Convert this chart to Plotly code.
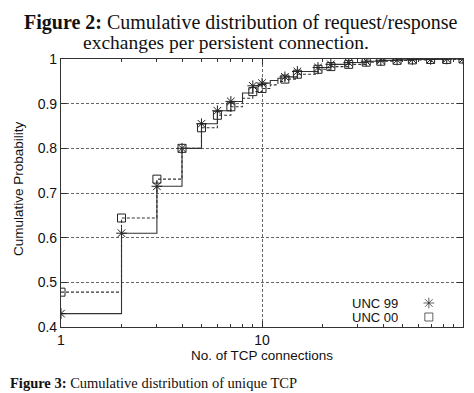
import plotly.graph_objects as go

# Data
x_vals = [1, 2, 3, 4, 5, 6, 7, 8, 9, 10, 11, 12, 13, 15, 19, 22, 27, 33, 39, 47, 56, 69, 83, 100]
unc99 = [0.43, 0.61, 0.715, 0.80, 0.855, 0.884, 0.905, 0.924, 0.94, 0.946, 0.952, 0.957, 0.960,
         0.972, 0.981, 0.988, 0.992, 0.995, 0.997, 0.998, 0.999, 0.999, 1.0, 1.0]
unc00 = [0.478, 0.644, 0.731, 0.80, 0.846, 0.874, 0.893, 0.912, 0.927, 0.934, 0.942, 0.950, 0.955,
         0.966, 0.977, 0.983, 0.988, 0.993, 0.995, 0.997, 0.998, 0.999, 0.999, 1.0]
marked = [1, 2, 3, 4, 5, 6, 7, 9, 10, 13, 15, 19, 22, 27, 33, 39, 47, 56, 69, 83, 100]
series_names = ["UNC 99", "UNC 00"]
y_ticks = [0.4, 0.5, 0.6, 0.7, 0.8, 0.9, 1.0]
y_tick_text = ["0.4", "0.5", "0.6", "0.7", "0.8", "0.9", "1"]

line_col = "#333333"
mark_col = "#222222"
fig = go.Figure()

def add_series(yv, name, dash, symbol, msize):
    fig.add_trace(go.Scatter(x=x_vals, y=yv, mode="lines", line_shape="hv",
                             line=dict(color=line_col, width=1.1, dash=dash),
                             showlegend=False, name=name))
    mx = [x for x in x_vals if x in marked]
    my = [y for x, y in zip(x_vals, yv) if x in marked]
    fig.add_trace(go.Scatter(x=mx, y=my, mode="markers", name=name,
                             marker=dict(symbol=symbol, size=msize, color=mark_col,
                                         line=dict(color=mark_col, width=1)),
                             showlegend=False))

add_series(unc99, series_names[0], "solid", "asterisk-open", 9)
add_series(unc00, series_names[1], "3px,2px", "square-open", 8)

# key (text then symbol, as in gnuplot)
key_y = [(327 - 303) / 268, (327 - 317) / 268]
for name, ky in zip(series_names, key_y):
    fig.add_annotation(x=0.841, y=ky, xref="paper", yref="paper", text=name, showarrow=False,
                       xanchor="right", yanchor="middle", height=14, borderpad=0,
                       font=dict(family="Liberation Sans, Arial", size=13, color="#111"))

fig.add_trace(go.Scatter(x=[0.915, 0.915], y=key_y, xaxis="x2", yaxis="y2", mode="markers",
                         marker=dict(symbol=["asterisk-open", "square-open"], size=[9, 8],
                                     color=mark_col, line=dict(color=mark_col, width=1)),
                         showlegend=False, hoverinfo="skip"))

axis_font = dict(family="Liberation Sans, Arial", size=14, color="#111")
# page body has an 8px default margin: figure is sized so it ends at the window edge
fig.update_layout(
    width=466, height=385,
    margin=dict(l=53, r=11, t=51, b=66),
    paper_bgcolor="white", plot_bgcolor="white",
    showlegend=False,
    xaxis=dict(type="log", range=[0, 2], tickvals=[1, 10, 100], ticktext=["1", "10", "100"],
               ticks="inside", ticklen=6, tickcolor=line_col, showline=True, linecolor=line_col,
               linewidth=1.2, mirror="ticks", showgrid=True, gridcolor="#666", griddash="3px,2px",
               gridwidth=1, tickfont=axis_font, zeroline=False,
               automargin=False,
               minor=dict(ticks="inside", ticklen=3, tickcolor=line_col, showgrid=False,
                          tickvals=[2, 3, 4, 5, 6, 7, 8, 9, 20, 30, 40, 50, 60, 70, 80, 90]),
               title=dict(text="No. of TCP connections", font=dict(family="Liberation Sans, Arial", size=13.5, color="#111"),
                          standoff=3)),
    yaxis=dict(range=[0.4, 1.0], tickvals=y_ticks, ticktext=y_tick_text,
               ticks="inside", ticklen=6, tickcolor=line_col, showline=True, linecolor=line_col,
               linewidth=1.2, mirror="ticks", showgrid=True, gridcolor="#666", griddash="3px,2px",
               gridwidth=1, tickfont=axis_font, zeroline=False, automargin=False),
    xaxis2=dict(range=[0, 1], overlaying="x", visible=False, domain=[0, 1]),
    yaxis2=dict(range=[0, 1], overlaying="y", visible=False),
)

fig.add_annotation(x=0, y=(327 - 189) / 268, xref="paper", yref="paper", xshift=-43,
                   xanchor="center", yanchor="middle", textangle=-90,
                   text="Cumulative Probability", showarrow=False,
                   font=dict(family="Liberation Sans, Arial", size=13.5, color="#111"))

serif = "Liberation Serif, Times New Roman"
fig.add_annotation(x=0.5, y=1, xref="paper", yref="paper", yshift=37, xshift=-21,
                   xanchor="center", yanchor="middle",
                   text="<b>Figure 2:</b> Cumulative distribution of request/response",
                   showarrow=False, font=dict(family=serif, size=20, color="#111"))
fig.add_annotation(x=0.5, y=1, xref="paper", yref="paper", yshift=17, xshift=-36,
                   xanchor="center", yanchor="middle",
                   text="exchanges per persistent connection.",
                   showarrow=False, font=dict(family=serif, size=19.5, color="#111"))
fig.add_annotation(x=0, y=0, xref="paper", yref="paper", xshift=-53, yshift=-46, xanchor="left", yanchor="top",
                   text="<b>Figure 3:</b> Cumulative distribution of unique TCP",
                   showarrow=False, align="left",
                   font=dict(family=serif, size=14.5, color="#111"))

fig.write_html("out.html")
